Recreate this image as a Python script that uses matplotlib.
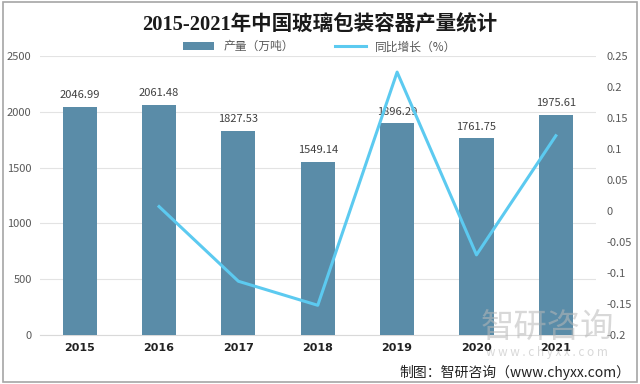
import matplotlib
matplotlib.use("Agg")
import matplotlib.pyplot as plt
from matplotlib.patches import Rectangle
from matplotlib.lines import Line2D
from matplotlib.patches import Patch

plt.rcParams['font.family'] = ['Noto Sans CJK SC', 'DejaVu Sans']

years = ['2015', '2016', '2017', '2018', '2019', '2020', '2021']
output = [2046.99, 2061.48, 1827.53, 1549.14, 1896.29, 1761.75, 1975.61]
growth_years = ['2016', '2017', '2018', '2019', '2020', '2021']
growth = [0.0071, -0.1135, -0.1523, 0.2241, -0.0709, 0.1214]
left_ticks = [0, 500, 1000, 1500, 2000, 2500]
right_ticks = [-0.2, -0.15, -0.1, -0.05, 0, 0.05, 0.1, 0.15, 0.2, 0.25]
right_labels = ['-0.2', '-0.15', '-0.1', '-0.05', '0', '0.05', '0.1', '0.15', '0.2', '0.25']

bar_color = '#5a8ca8'
line_color = '#5ccaf0'
tick_color = '#595959'

fig = plt.figure(figsize=(6.4, 3.84), dpi=100)
ax = fig.add_axes([0.0625, 0.128, 0.868, 0.726])
x = list(range(len(years)))
bars = ax.bar(x, output, width=0.43, color=bar_color, zorder=3)
for xi, v in zip(x, output):
    ax.text(xi, v + 60, f'{v:.2f}', ha='center', va='bottom', fontsize=8, color='#404040')
ax.set_ylim(0, 2500)
ax.set_yticks(left_ticks)
ax.set_yticklabels([str(t) for t in left_ticks], fontsize=8, color=tick_color)
ax.set_xlim(-0.5, len(years) - 0.5)
ax.set_xticks(x)
ax.set_xticklabels(years, fontsize=8, fontweight='bold', color='#222222',
                   family=['DejaVu Sans'])
ax.grid(axis='y', color='#e3e3e3', linewidth=0.8, zorder=0)
for s in ['top', 'right', 'left']:
    ax.spines[s].set_visible(False)
ax.spines['bottom'].set_color('#d9d9d9')
ax.tick_params(axis='both', length=0, pad=6)

ax2 = ax.twinx()
gx = [years.index(y) for y in growth_years]
ax2.plot(gx, growth, color=line_color, linewidth=2.2, zorder=4)
ax2.set_ylim(-0.2, 0.25)
ax2.set_yticks(right_ticks)
ax2.set_yticklabels(right_labels, fontsize=8, color=tick_color)
for s in ['top', 'right', 'left', 'bottom']:
    ax2.spines[s].set_visible(False)
ax2.tick_params(axis='y', length=0, pad=8)

fig.text(0.5, 0.935, '2015-2021年中国玻璃包装容器产量统计', ha='center', va='center',
         fontsize=14.8, fontweight='bold', color='#1a1a1a',
         family=['Liberation Serif', 'Noto Sans CJK SC'])

handles = [Patch(facecolor=bar_color, label='产量（万吨）'),
           Line2D([0], [0], color=line_color, linewidth=2.2, label='同比增长（%）')]
fig.legend(handles=handles, loc='center', bbox_to_anchor=(0.5, 0.878), ncol=2,
           frameon=False, fontsize=8.5, handlelength=2.6, columnspacing=3.5,
           labelcolor='#595959', handleheight=0.6)

# watermark
fig.text(0.855, 0.148, '智研咨询', ha='center', va='center', fontsize=24,
         color='#b8b8b8', alpha=0.55, zorder=10)
fig.text(0.855, 0.082, 'w w w . c h y x x . c o m', ha='center', va='center', fontsize=8.5,
         color='#b8b8b8', alpha=0.55, zorder=10)
fig.text(0.985, 0.03, '制图：智研咨询（www.chyxx.com）', ha='right', va='center',
         fontsize=10, color='#222222')

fig.patches.append(Rectangle((0.004, 0.004), 0.992, 0.992, transform=fig.transFigure,
                             fill=False, edgecolor='#a6a6a6', linewidth=1.2))

fig.savefig('out.png', dpi=100)
